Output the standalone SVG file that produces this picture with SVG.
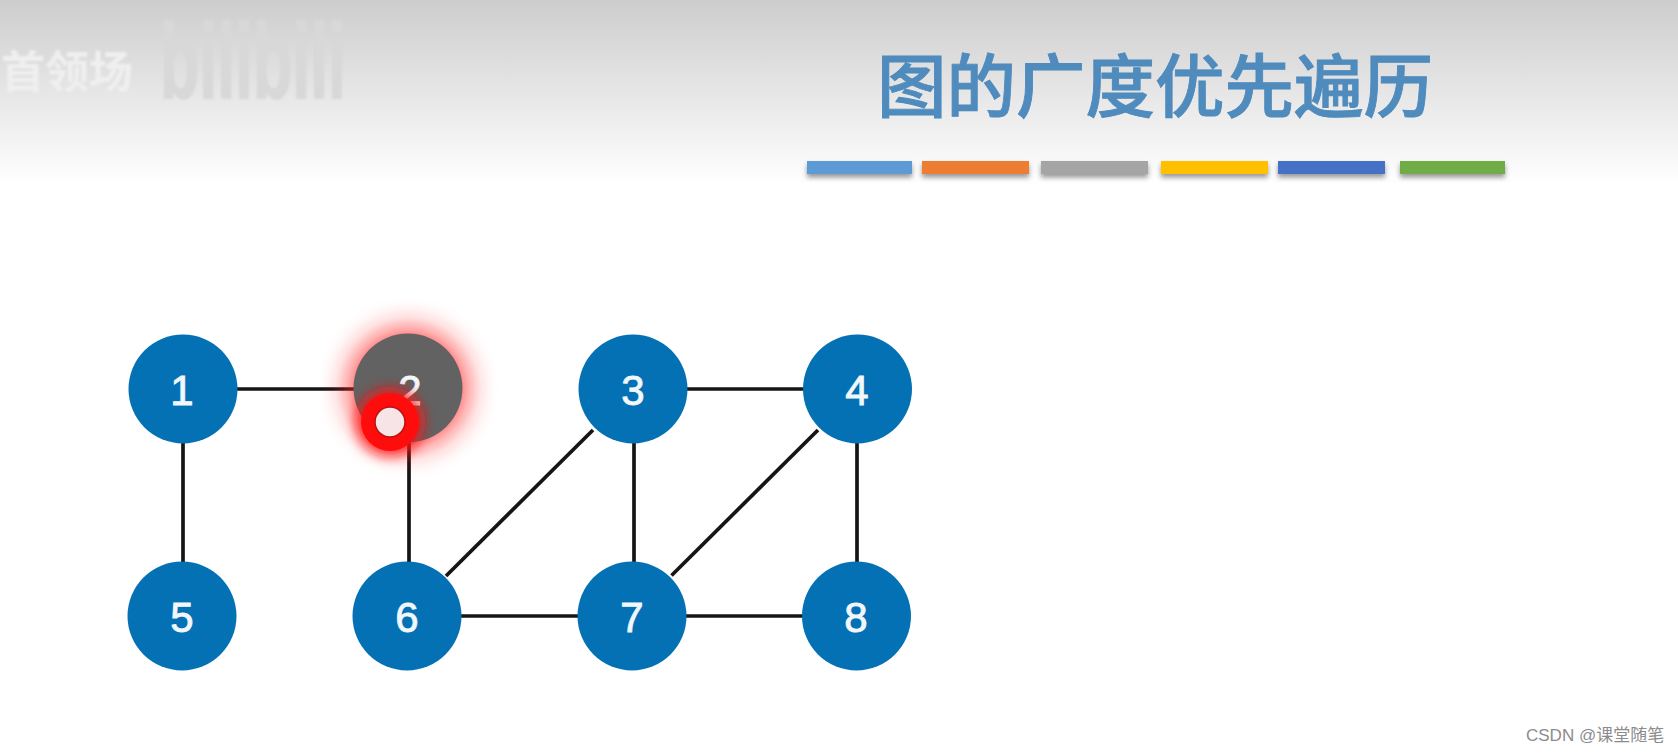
<svg xmlns="http://www.w3.org/2000/svg" width="1678" height="753" viewBox="0 0 1678 753">
<style>
.edge{stroke:#151515;stroke-width:3.7;fill:none}
.n{fill:#0471b4}
.l{font-family:"Liberation Sans",Arial,sans-serif;font-size:42px;fill:#f2f7fb;stroke:#f2f7fb;stroke-width:0.9;text-anchor:middle}
.bar{filter:url(#sh)}
</style>
<defs>
<linearGradient id="bg" x1="0" y1="0" x2="0" y2="1"><stop offset="0" stop-color="#cdcdcd"/><stop offset="0.5" stop-color="#e6e6e6"/><stop offset="1" stop-color="#fff"/></linearGradient>
<filter id="sh" x="-5%" y="-40%" width="110%" height="220%"><feDropShadow dx="0" dy="3.5" stdDeviation="2.5" flood-color="#000" flood-opacity="0.4"/></filter>
<filter id="b1" x="-60%" y="-60%" width="220%" height="220%"><feGaussianBlur stdDeviation="14"/></filter>
<filter id="b2" x="-60%" y="-60%" width="220%" height="220%"><feGaussianBlur stdDeviation="6"/></filter>
<filter id="b3" x="-5%" y="-5%" width="110%" height="110%"><feGaussianBlur stdDeviation="1"/></filter>
<filter id="b4" x="-5%" y="-20%" width="110%" height="140%"><feGaussianBlur stdDeviation="0.6"/></filter>
</defs>
<rect width="1678" height="753" fill="#fff"/>
<rect width="1678" height="185" fill="url(#bg)"/>
<g id="watermark" filter="url(#b3)">
<text x="1" y="88" font-family="'Noto Sans CJK SC',sans-serif" font-size="44" font-weight="700" fill="#efefef">首领场</text>
<text x="160" y="98" font-family="'Liberation Sans',sans-serif" font-weight="700" font-size="106" fill="#d8d8d8" stroke="#d8d8d8" stroke-width="2" textLength="186" lengthAdjust="spacingAndGlyphs">bilibili</text>
</g>
<text id="title" x="877" y="112" filter="url(#b4)" font-family="'Noto Sans CJK SC',sans-serif" font-weight="500" font-size="69.5" fill="#4f8bbd" stroke="#4f8bbd" stroke-width="0.9">图的广度优先遍历</text>
<g id="bars">
<rect class="bar" x="807" y="161" width="105" height="13" fill="#5b9bd5"/>
<rect class="bar" x="922" y="161" width="107" height="13" fill="#ed7d31"/>
<rect class="bar" x="1041" y="161" width="107" height="13" fill="#a5a5a5"/>
<rect class="bar" x="1161" y="161" width="107" height="13" fill="#ffc000"/>
<rect class="bar" x="1278" y="161" width="107" height="13" fill="#4472c4"/>
<rect class="bar" x="1400" y="161" width="105" height="13" fill="#70ad47"/>
</g>
<g id="connectors">
<line class="edge" x1="183" y1="389" x2="408" y2="389"/>
<line class="edge" x1="183" y1="389" x2="183" y2="616"/>
<line class="edge" x1="409" y1="389" x2="409" y2="616"/>
<line class="edge" x1="632" y1="389" x2="858" y2="389"/>
<line class="edge" x1="634" y1="389" x2="634" y2="616"/>
<line class="edge" x1="857" y1="389" x2="857" y2="616"/>
<line class="edge" x1="407" y1="616" x2="856" y2="616"/>
<line class="edge" x1="593" y1="430" x2="446" y2="576"/>
<line class="edge" x1="818" y1="430" x2="671.5" y2="575.5"/>
</g>
<g id="node1"><circle class="n" cx="183" cy="389" r="54.5"/><text class="l" x="182" y="405">1</text></g>
<g id="node2"><circle cx="408" cy="388" r="60" fill="#ff2020" opacity="0.8" filter="url(#b1)"/><circle cx="408" cy="388" r="54.5" fill="#626262"/><text class="l" x="410" y="405">2</text></g>
<g id="node3"><circle class="n" cx="633" cy="389" r="54.5"/><text class="l" x="633" y="405">3</text></g>
<g id="node4"><circle class="n" cx="857.500" cy="389" r="54.5"/><text class="l" x="857" y="405">4</text></g>
<g id="node5"><circle class="n" cx="182" cy="616" r="54.5"/><text class="l" x="182" y="632">5</text></g>
<g id="node6"><circle class="n" cx="407" cy="616" r="54.5"/><text class="l" x="407" y="632">6</text></g>
<g id="node7"><circle class="n" cx="632" cy="616" r="54.5"/><text class="l" x="632" y="632">7</text></g>
<g id="node8"><circle class="n" cx="856.500" cy="616" r="54.5"/><text class="l" x="856" y="632">8</text></g>
<g id="pointer">
<circle cx="390" cy="422" r="35" fill="#ff1010" opacity="0.75" filter="url(#b2)"/>
<circle cx="390" cy="422" r="29" fill="#ff0d0d"/>
<circle cx="390" cy="422" r="15" fill="#f6e4e6" stroke="#c01010" stroke-width="1.5"/>
</g>
<text id="credit" x="1526" y="741" font-family="'Liberation Sans','Noto Sans CJK SC',sans-serif" font-size="17" fill="#8c8c8c">CSDN @课堂随笔</text>
</svg>
